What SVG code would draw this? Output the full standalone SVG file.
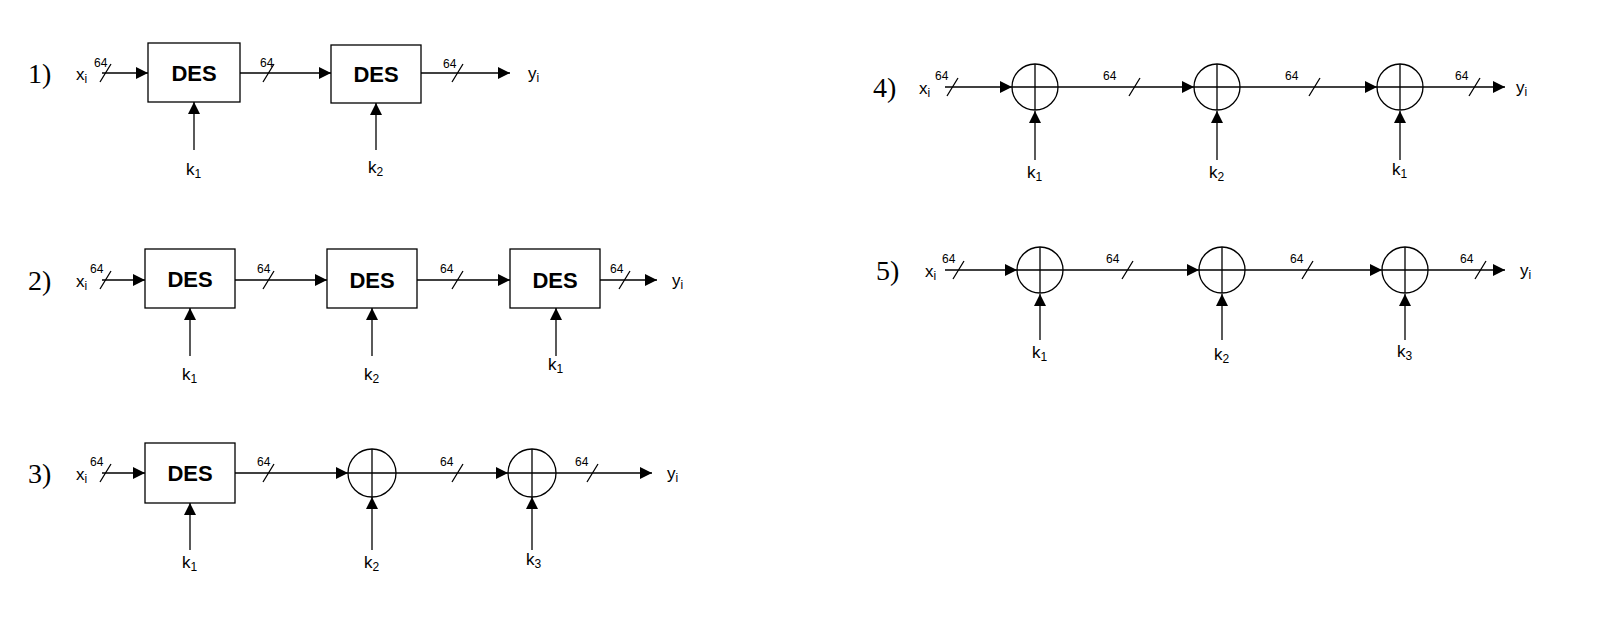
<svg xmlns="http://www.w3.org/2000/svg" width="1623" height="625" viewBox="0 0 1623 625">
<defs>
<marker id="ahb" viewBox="0 0 10 10" refX="10" refY="5" markerWidth="22" markerHeight="12" markerUnits="userSpaceOnUse" orient="auto"><path d="M0,0 L10,5 L0,10 z" fill="#000"/></marker>
</defs>
<style>
.ln{stroke:#000;stroke-width:1.3;fill:none}
.box{stroke:#000;stroke-width:1.3;fill:#fff}
.des{font-family:"Liberation Sans",Arial,sans-serif;font-weight:bold;font-size:22px;text-anchor:middle}
.t{font-family:"Liberation Sans",Arial,sans-serif;font-size:17px}
.s{font-family:"Liberation Sans",Arial,sans-serif;font-size:12px}
.n{font-family:"Liberation Serif","Times New Roman",serif;font-size:28px}
</style>
<rect width="1623" height="625" fill="#fff"/>
<g id="connectors">
<path class="ln" d="M102,73 H148" marker-end="url(#ahb)"/>
<path class="ln" d="M240,73 H331" marker-end="url(#ahb)"/>
<path class="ln" d="M421,73 H510" marker-end="url(#ahb)"/>
<path class="ln" d="M194,150 V102" marker-end="url(#ahb)"/>
<path class="ln" d="M376,150 V103" marker-end="url(#ahb)"/>
<path class="ln" d="M100,82 L111,64 M263,82 L274,64 M452,82 L463,64"/>
<path class="ln" d="M102,280 H145" marker-end="url(#ahb)"/>
<path class="ln" d="M235,280 H327" marker-end="url(#ahb)"/>
<path class="ln" d="M417,280 H510" marker-end="url(#ahb)"/>
<path class="ln" d="M600,280 H657" marker-end="url(#ahb)"/>
<path class="ln" d="M190,356 V308" marker-end="url(#ahb)"/>
<path class="ln" d="M372,356 V308" marker-end="url(#ahb)"/>
<path class="ln" d="M556,356 V308" marker-end="url(#ahb)"/>
<path class="ln" d="M100,289 L111,271 M263,289 L274,271 M452,289 L463,271 M619,289 L630,271"/>
<path class="ln" d="M102,473 H145" marker-end="url(#ahb)"/>
<path class="ln" d="M235,473 H348" marker-end="url(#ahb)"/>
<path class="ln" d="M396,473 H508" marker-end="url(#ahb)"/>
<path class="ln" d="M556,473 H652" marker-end="url(#ahb)"/>
<path class="ln" d="M190,550 V503" marker-end="url(#ahb)"/>
<path class="ln" d="M372,550 V497" marker-end="url(#ahb)"/>
<path class="ln" d="M532,550 V497" marker-end="url(#ahb)"/>
<path class="ln" d="M100,482 L111,464 M263,482 L274,464 M452,482 L463,464 M587,482 L598,464"/>
<path class="ln" d="M945,87 H1012" marker-end="url(#ahb)"/>
<path class="ln" d="M1058,87 H1194" marker-end="url(#ahb)"/>
<path class="ln" d="M1240,87 H1377" marker-end="url(#ahb)"/>
<path class="ln" d="M1423,87 H1505" marker-end="url(#ahb)"/>
<path class="ln" d="M1035,160 V111" marker-end="url(#ahb)"/>
<path class="ln" d="M1217,160 V111" marker-end="url(#ahb)"/>
<path class="ln" d="M1400,160 V111" marker-end="url(#ahb)"/>
<path class="ln" d="M947,96 L958,78 M1129,96 L1140,78 M1309,96 L1320,78 M1469,96 L1480,78"/>
<path class="ln" d="M945,270 H1017" marker-end="url(#ahb)"/>
<path class="ln" d="M1063,270 H1199" marker-end="url(#ahb)"/>
<path class="ln" d="M1245,270 H1382" marker-end="url(#ahb)"/>
<path class="ln" d="M1428,270 H1505" marker-end="url(#ahb)"/>
<path class="ln" d="M1040,340 V294" marker-end="url(#ahb)"/>
<path class="ln" d="M1222,340 V294" marker-end="url(#ahb)"/>
<path class="ln" d="M1405,340 V294" marker-end="url(#ahb)"/>
<path class="ln" d="M953,279 L964,261 M1122,279 L1133,261 M1302,279 L1313,261 M1475,279 L1486,261"/>
</g>
<g id="labels">
<text class="n" x="28" y="83">1)</text>
<text class="n" x="28" y="290">2)</text>
<text class="n" x="28" y="483">3)</text>
<text class="n" x="873" y="97">4)</text>
<text class="n" x="876" y="280">5)</text>
<g class="t">
<text x="76" y="80">x<tspan class="s" dy="3">i</tspan></text>
<text x="76" y="287">x<tspan class="s" dy="3">i</tspan></text>
<text x="76" y="480">x<tspan class="s" dy="3">i</tspan></text>
<text x="919" y="94">x<tspan class="s" dy="3">i</tspan></text>
<text x="925" y="277">x<tspan class="s" dy="3">i</tspan></text>
<text x="528" y="79">y<tspan class="s" dy="3">i</tspan></text>
<text x="672" y="286">y<tspan class="s" dy="3">i</tspan></text>
<text x="667" y="479">y<tspan class="s" dy="3">i</tspan></text>
<text x="1516" y="93">y<tspan class="s" dy="3">i</tspan></text>
<text x="1520" y="276">y<tspan class="s" dy="3">i</tspan></text>
<text x="186" y="175">k<tspan class="s" dy="3">1</tspan></text>
<text x="368" y="173">k<tspan class="s" dy="3">2</tspan></text>
<text x="182" y="380">k<tspan class="s" dy="3">1</tspan></text>
<text x="364" y="380">k<tspan class="s" dy="3">2</tspan></text>
<text x="548" y="370">k<tspan class="s" dy="3">1</tspan></text>
<text x="182" y="568">k<tspan class="s" dy="3">1</tspan></text>
<text x="364" y="568">k<tspan class="s" dy="3">2</tspan></text>
<text x="526" y="565">k<tspan class="s" dy="3">3</tspan></text>
<text x="1027" y="178">k<tspan class="s" dy="3">1</tspan></text>
<text x="1209" y="178">k<tspan class="s" dy="3">2</tspan></text>
<text x="1392" y="175">k<tspan class="s" dy="3">1</tspan></text>
<text x="1032" y="358">k<tspan class="s" dy="3">1</tspan></text>
<text x="1214" y="360">k<tspan class="s" dy="3">2</tspan></text>
<text x="1397" y="357">k<tspan class="s" dy="3">3</tspan></text>
</g>
<g class="s">
<text x="94" y="67">64</text><text x="260" y="67">64</text><text x="443" y="68">64</text>
<text x="90" y="273">64</text><text x="257" y="273">64</text><text x="440" y="273">64</text><text x="610" y="273">64</text>
<text x="90" y="466">64</text><text x="257" y="466">64</text><text x="440" y="466">64</text><text x="575" y="466">64</text>
<text x="935" y="80">64</text><text x="1103" y="80">64</text><text x="1285" y="80">64</text><text x="1455" y="80">64</text>
<text x="942" y="263">64</text><text x="1106" y="263">64</text><text x="1290" y="263">64</text><text x="1460" y="263">64</text>
</g>
</g>
<g id="des1a"><rect class="box" x="148" y="43" width="92" height="59"/><text class="des" x="194" y="81">DES</text></g>
<g id="des1b"><rect class="box" x="331" y="45" width="90" height="58"/><text class="des" x="376" y="82">DES</text></g>
<g id="des2a"><rect class="box" x="145" y="249" width="90" height="59"/><text class="des" x="190" y="287">DES</text></g>
<g id="des2b"><rect class="box" x="327" y="249" width="90" height="59"/><text class="des" x="372" y="288">DES</text></g>
<g id="des2c"><rect class="box" x="510" y="249" width="90" height="59"/><text class="des" x="555" y="288">DES</text></g>
<g id="des3a"><rect class="box" x="145" y="443" width="90" height="60"/><text class="des" x="190" y="481">DES</text></g>
<g id="xor3a"><circle class="ln" cx="372" cy="473" r="24"/><path class="ln" d="M348,473 H396 M372,449 V497"/></g>
<g id="xor3b"><circle class="ln" cx="532" cy="473" r="24"/><path class="ln" d="M508,473 H556 M532,449 V497"/></g>
<g id="xor4a"><circle class="ln" cx="1035" cy="87" r="23"/><path class="ln" d="M1012,87 H1058 M1035,64 V110"/></g>
<g id="xor4b"><circle class="ln" cx="1217" cy="87" r="23"/><path class="ln" d="M1194,87 H1240 M1217,64 V110"/></g>
<g id="xor4c"><circle class="ln" cx="1400" cy="87" r="23"/><path class="ln" d="M1377,87 H1423 M1400,64 V110"/></g>
<g id="xor5a"><circle class="ln" cx="1040" cy="270" r="23"/><path class="ln" d="M1017,270 H1063 M1040,247 V293"/></g>
<g id="xor5b"><circle class="ln" cx="1222" cy="270" r="23"/><path class="ln" d="M1199,270 H1245 M1222,247 V293"/></g>
<g id="xor5c"><circle class="ln" cx="1405" cy="270" r="23"/><path class="ln" d="M1382,270 H1428 M1405,247 V293"/></g>
</svg>
